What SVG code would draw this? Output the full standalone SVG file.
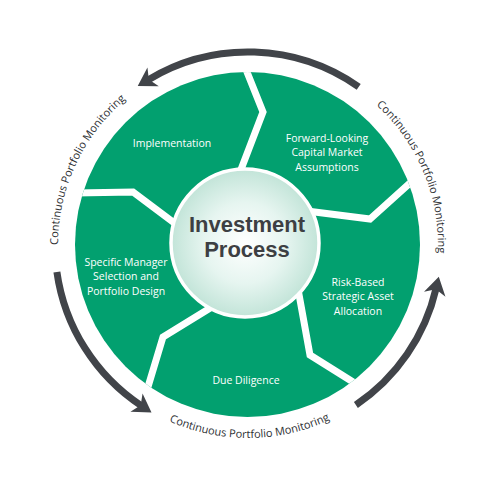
<svg xmlns="http://www.w3.org/2000/svg" width="500" height="491" viewBox="0 0 500 491">
  <defs>
    <clipPath id="disk"><circle cx="247.5" cy="244.5" r="172.5"/></clipPath>
    <radialGradient id="core" cx="50%" cy="50%" r="50%">
      <stop offset="0%" stop-color="#ffffff"/>
      <stop offset="55%" stop-color="#e6f5f0"/>
      <stop offset="100%" stop-color="#c2e4d8"/>
    </radialGradient>
    <marker id="head" markerUnits="userSpaceOnUse" markerWidth="30" markerHeight="30" viewBox="-10 -15 30 30" refX="0" refY="0" orient="auto">
      <path d="M12,0 L-6,-11 L-1,0 L-6,11 Z" fill="#414449"/>
    </marker>
    <path id="tpUL" d="M64.5,294.2 A190,190 0 0 1 167.7,72.8"/>
    <path id="tpUR" d="M335.7,76.5 A190,190 0 0 1 429.2,302.1"/>
    <path id="tpB" d="M125.2,393.9 A193,193 0 0 0 373.3,391.8"/>
  </defs>
  <style>
    .seg { fill: #02a06f; }
    .divider { fill: none; stroke: #ffffff; stroke-width: 7; stroke-linejoin: miter; }
    .lbl { font-family: "Open Sans", "Liberation Sans", sans-serif; font-size: 10.5px; fill: #ffffff; text-anchor: middle; }
    .core-t { font-family: "Liberation Sans", Arial, sans-serif; font-size: 22px; font-weight: bold; fill: #3d3f43; text-anchor: middle; }
    .arc { fill: none; stroke: #414449; stroke-width: 7; stroke-linecap: butt; }
    .mon { font-family: "Open Sans", "Liberation Sans", sans-serif; font-size: 11px; fill: #2e3033; }
  </style>
  <rect width="500" height="491" fill="#ffffff"/>

  <g clip-path="url(#disk)">
    <g id="implementation">
      <path class="seg" d="M248,245 L190,234.75 L133,192 L60,193.4 L-41.4,165.8 L62.1,9.6 L237.5,-54.8 L241.4,58 L263,112 L232,193 Z"/>
    </g>
    <g id="forward-looking">
      <path class="seg" d="M248,245 L232,193 L263,112 L241.4,58 L237.5,-54.8 L407,-9.4 L522.7,124.4 L430,165 L370,219 L295,209.5 Z"/>
    </g>
    <g id="risk-based">
      <path class="seg" d="M248,245 L295,209.5 L370,219 L430,165 L522.7,124.4 L540.3,312.5 L441.2,474.5 L375,395.8 L310,355 L297.3,285 Z"/>
    </g>
    <g id="due-diligence">
      <path class="seg" d="M248,245 L297.3,285 L310,355 L375,395.8 L441.2,474.5 L270.5,544.2 L91.7,501.1 L135,430 L163,337 L220,302 Z"/>
    </g>
    <g id="specific-manager">
      <path class="seg" d="M248,245 L220,302 L163,337 L135,430 L91.7,501.1 L-30.2,357.4 L-41.4,165.8 L60,193.4 L133,192 L190,234.75 Z"/>
    </g>
    <g id="dividers">
      <polyline class="divider" points="232,193 263,112 241.4,58"/>
      <polyline class="divider" points="295,209.5 370,219 430,165"/>
      <polyline class="divider" points="297.3,285 310,355 375,395.8"/>
      <polyline class="divider" points="220,302 163,337 135,430"/>
      <polyline class="divider" points="190,234.75 133,192 60,193.4"/>
    </g>
  </g>

  <g id="labels">
    <text class="lbl" x="172" y="147">Implementation</text>
    <text class="lbl" x="327"><tspan x="327" y="141.5">Forward-Looking</tspan><tspan x="327" y="156">Capital Market</tspan><tspan x="327" y="170.5">Assumptions</tspan></text>
    <text class="lbl" x="358"><tspan x="358" y="285.5">Risk-Based</tspan><tspan x="358" y="300">Strategic Asset</tspan><tspan x="358" y="314.5">Allocation</tspan></text>
    <text class="lbl" x="246" y="383.5">Due Diligence</text>
    <text class="lbl" x="126"><tspan x="126" y="265.5">Specific Manager</tspan><tspan x="126" y="280">Selection and</tspan><tspan x="126" y="294.5">Portfolio Design</tspan></text>
  </g>

  <g id="investment-process">
    <circle cx="245" cy="243" r="74" fill="url(#core)" stroke="#ffffff" stroke-width="3.5"/>
    <text class="core-t" x="247" y="232">Investment</text>
    <text class="core-t" x="247" y="257">Process</text>
  </g>

  <g id="connectors">
    <path class="arc" d="M358.7,86.9 A193,193 0 0 0 148.0,79.9" marker-end="url(#head)"/>
    <path class="arc" d="M56.9,271.9 A193,193 0 0 0 141.5,405.9" marker-end="url(#head)"/>
    <path class="arc" d="M355.9,405 A193,193 0 0 0 436.1,288.4" marker-end="url(#head)"/>
  </g>

  <g id="monitoring-labels">
    <text class="mon"><textPath href="#tpUL" startOffset="50%" text-anchor="middle">Continuous Portfolio Monitoring</textPath></text>
    <text class="mon"><textPath href="#tpUR" startOffset="50%" text-anchor="middle">Continuous Portfolio Monitoring</textPath></text>
    <text class="mon"><textPath href="#tpB" startOffset="50%" text-anchor="middle">Continuous Portfolio Monitoring</textPath></text>
  </g>
</svg>
